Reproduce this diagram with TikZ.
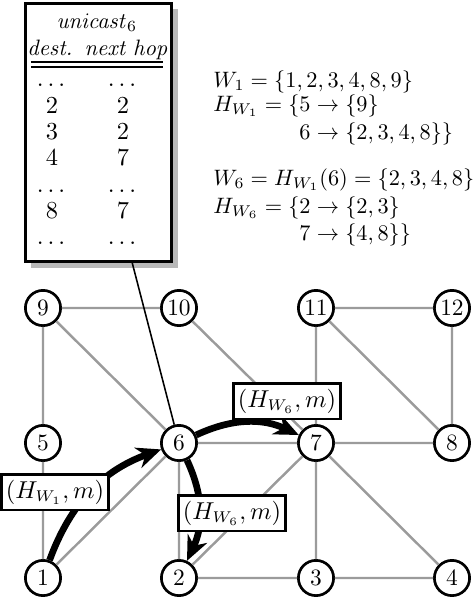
\documentclass[tikz,border=0pt]{standalone}
\usetikzlibrary{arrows.meta,shadows}
\definecolor{edgegray}{RGB}{155,155,155}
\begin{document}
\begin{tikzpicture}[x=0.4484pt,y=-0.4484pt,
  vtx/.style={circle,draw=black,fill=white,line width=1.2pt,minimum size=15.8pt,inner sep=0pt,font=\fontsize{10.5pt}{12.6pt}\selectfont},
  edge/.style={draw=edgegray,line width=1.1pt},
  hop/.style={line width=3pt,-{Stealth[length=11pt,width=9.5pt,inset=3.5pt]}},
  lbl/.style={draw=black,fill=white,line width=1.2pt,minimum width=48pt,minimum height=16pt,inner sep=2pt,font=\fontsize{10.5pt}{12.6pt}\selectfont},
  eq/.style={anchor=base west,inner sep=0pt},
  cell/.style={anchor=base,inner sep=0pt,font=\fontsize{10.5pt}{12.6pt}\selectfont},
  head/.style={anchor=base,inner sep=0pt}]
\useasboundingbox (0,0) rectangle (474,602);

% table
\node[draw=black,fill=white,line width=1.3pt,anchor=north west,minimum width=65.6pt,minimum height=115.7pt,
  drop shadow={shadow xshift=2.7pt,shadow yshift=-2.7pt,fill=black!28,opacity=1}] (table) at (24,2) {};
\node[head] (tt) at (97,28) {$\mathit{unicast}_6$};
\node[head] (h1) at (50,55) {\textit{dest.}};
\node[head] (h2) at (126,55) {\textit{next hop}};
\draw[line width=0.8pt] (31,62) -- (163,62) (31,67) -- (163,67);
\node[cell] (r1a) at (51,86.5) {$\ldots$};
\node[cell] (r1b) at (122,86.5) {$\ldots$};
\node[cell] (r2a) at (52,113) {$2$};
\node[cell] (r2b) at (123,113) {$2$};
\node[cell] (r3a) at (52,139) {$3$};
\node[cell] (r3b) at (123,139) {$2$};
\node[cell] (r4a) at (52,165.5) {$4$};
\node[cell] (r4b) at (123,165.5) {$7$};
\node[cell] (r5a) at (51,192) {$\ldots$};
\node[cell] (r5b) at (122,192) {$\ldots$};
\node[cell] (r6a) at (52,218) {$8$};
\node[cell] (r6b) at (123,218) {$7$};
\node[cell] (r7a) at (51,244.5) {$\ldots$};
\node[cell] (r7b) at (122,244.5) {$\ldots$};

% equations
\node[eq] (e1) at (213,87) {$W_1 = \{1,2,3,4,8,9\}$};
\node[eq] (e2) at (213,111) {$H_{W_1} = \{5 \rightarrow \{9\}$};
\node[eq] (e3) at (213,139) {$\phantom{H_{W_1} = \{}6 \rightarrow \{2,3,4,8\}\}$};
\node[eq] (e4) at (213,185) {$W_6 = H_{W_1}(6) = \{2,3,4,8\}$};
\node[eq] (e5) at (213,213) {$H_{W_6} = \{2 \rightarrow \{2,3\}$};
\node[eq] (e6) at (213,240) {$\phantom{H_{W_6} = \{}7 \rightarrow \{4,8\}\}$};

% vertices
\node[vtx] (n9) at (43,308) {9};
\node[vtx] (n10) at (179,308) {10};
\node[vtx] (n11) at (316,308) {11};
\node[vtx] (n12) at (452,308) {12};
\node[vtx] (n5) at (43,443) {5};
\node[vtx] (n6) at (179,443) {6};
\node[vtx] (n7) at (316,443) {7};
\node[vtx] (n8) at (452,443) {8};
\node[vtx] (n1) at (43,578) {1};
\node[vtx] (n2) at (179,578) {2};
\node[vtx] (n3) at (316,578) {3};
\node[vtx] (n4) at (452,578) {4};

% gray edges
\path[edge] (n9) -- (n10) (n9) -- (n5) (n9) -- (n6) (n10) -- (n7)
  (n11) -- (n12) (n11) -- (n7) (n11) -- (n8) (n12) -- (n8)
  (n5) -- (n1) (n1) -- (n6) (n6) -- (n7) (n6) -- (n2)
  (n7) -- (n8) (n7) -- (n2) (n7) -- (n3) (n7) -- (n4)
  (n2) -- (n3) (n3) -- (n4);

% connector from table
\coordinate (tb) at (132,262);
\draw[line width=0.7pt] (tb) -- (n6);

% hops
\draw[hop] (n1) to[bend left=25] (n6);
\draw[hop] (n6) to[bend left=25] (n7);
\draw[hop] (n6) to[bend left=25] (n2);

% labels
\node[lbl] (l1) at (55,492) {$(H_{W_1},m)$};
\node[lbl] (l2) at (287,401) {$(H_{W_6},m)$};
\node[lbl] (l3) at (232,513) {$(H_{W_6},m)$};
\end{tikzpicture}
\end{document}
